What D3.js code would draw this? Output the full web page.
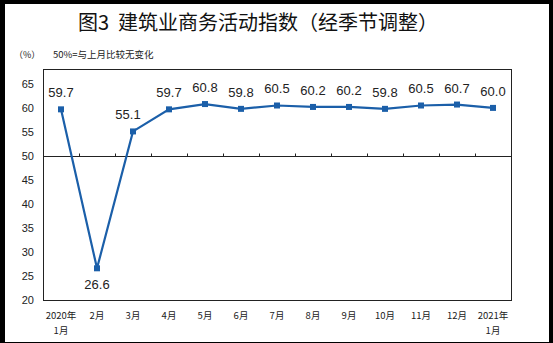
<!DOCTYPE html>
<html>
<head>
<meta charset="utf-8">
<script src="https://cdn.jsdelivr.net/npm/d3@7"></script>
<style>
  html, body { margin: 0; padding: 0; background: #000; }
  svg { display: block; }
</style>
</head>
<body>
<svg id="chart" width="553" height="343"></svg>
<script>
// chart data
const months = ['2020-01', '2020-02', '2020-03', '2020-04', '2020-05', '2020-06', '2020-07',
  '2020-08', '2020-09', '2020-10', '2020-11', '2020-12', '2021-01'];
const monthLabels = [['2020年', '1月'], ['2月'], ['3月'], ['4月'], ['5月'], ['6月'], ['7月'],
  ['8月'], ['9月'], ['10月'], ['11月'], ['12月'], ['2021年', '1月']];
const indexValues = [59.7, 26.6, 55.1, 59.7, 60.8, 59.8, 60.5, 60.2, 60.2, 59.8, 60.5, 60.7, 60.0];
const yTicks = [20, 25, 30, 35, 40, 45, 50, 55, 60, 65];

const svg = d3.select('#chart');
const cjk = '"Noto Sans CJK SC", "Liberation Sans", sans-serif';
const num = '"Liberation Sans", Arial, sans-serif';

// white page inside the black frame
svg.append('rect')
  .attr('x', 5).attr('y', 4)
  .attr('width', 544).attr('height', 338)
  .attr('fill', '#fff');

const plot = { left: 43, right: 511, top: 69, bottom: 300 };

const x = d3.scalePoint()
  .domain(months)
  .range([plot.left, plot.right])
  .padding(0.5);

const y = d3.scaleLinear()
  .domain([20, 68.1])
  .range([plot.bottom, plot.top]);

// title
svg.append('text')
  .attr('x', 258).attr('y', 30)
  .attr('text-anchor', 'middle')
  .style('font-family', cjk)
  .style('font-size', '20px')
  .style('font-weight', 400)
  .style('white-space', 'pre')
  .attr('fill', '#111')
  .text('图3  建筑业商务活动指数（经季节调整）');

svg.append('text')
  .attr('x', 14).attr('y', 58)
  .style('font-family', cjk)
  .style('font-size', '9px')
  .attr('fill', '#222')
  .text('（%）');

svg.append('text')
  .attr('x', 53).attr('y', 58)
  .style('font-family', cjk)
  .style('font-size', '9.5px')
  .attr('fill', '#222')
  .text('50%=与上月比较无变化');

// plot frame
svg.append('rect')
  .attr('x', plot.left + 0.5).attr('y', plot.top + 0.5)
  .attr('width', plot.right - plot.left).attr('height', plot.bottom - plot.top)
  .attr('fill', 'none')
  .attr('stroke', '#222')
  .attr('stroke-width', 1);

// y axis labels
const yAxis = d3.axisLeft(y).tickValues(yTicks).tickSize(0).tickPadding(9);
const yg = svg.append('g')
  .attr('transform', `translate(${plot.left},0)`)
  .call(yAxis);
yg.select('.domain').remove();
yg.selectAll('text')
  .style('font-family', num)
  .style('font-size', '11px')
  .attr('fill', '#222');

// 50 baseline with small category ticks
const step = x.step();
const boundaries = d3.range(1, months.length).map(i => plot.left + i * step);
const baseY = Math.round(y(50)) + 0.5;
svg.append('line')
  .attr('x1', plot.left).attr('x2', plot.right)
  .attr('y1', baseY).attr('y2', baseY)
  .attr('stroke', '#222');
svg.selectAll('.tick50')
  .data(boundaries)
  .join('line')
  .attr('class', 'tick50')
  .attr('x1', d => Math.round(d) + 0.5).attr('x2', d => Math.round(d) + 0.5)
  .attr('y1', baseY).attr('y2', baseY - 3)
  .attr('stroke', '#222');

// x labels
const xl = svg.selectAll('.xlab')
  .data(months)
  .join('text')
  .attr('class', 'xlab')
  .attr('text-anchor', 'middle')
  .style('font-family', cjk)
  .style('font-size', '9.5px')
  .attr('fill', '#222');
xl.each(function(d, i) {
  const t = d3.select(this);
  monthLabels[i].forEach((line, k) => {
    t.append('tspan')
      .attr('x', x(d))
      .attr('y', 319 + k * 15)
      .text(line);
  });
});

// series line
const line = d3.line()
  .x((d, i) => x(months[i]))
  .y(d => y(d));

svg.append('path')
  .datum(indexValues)
  .attr('d', line)
  .attr('fill', 'none')
  .attr('stroke', '#1b5fa9')
  .attr('stroke-width', 2.2);

svg.selectAll('.marker')
  .data(indexValues)
  .join('rect')
  .attr('class', 'marker')
  .attr('x', (d, i) => x(months[i]) - 3)
  .attr('y', d => y(d) - 3)
  .attr('width', 6).attr('height', 6)
  .attr('fill', '#1b5fa9');

// value labels
svg.selectAll('.vlab')
  .data(indexValues)
  .join('text')
  .attr('class', 'vlab')
  .attr('text-anchor', 'middle')
  .attr('x', (d, i) => x(months[i]) + (i === 2 ? -5 : 0))
  .attr('y', (d, i) => i === 1 ? y(d) + 21 : y(d) - 12)
  .style('font-family', num)
  .style('font-size', '13px')
  .attr('fill', '#222')
  .text(d => d.toFixed(1));
</script>
</body>
</html>
